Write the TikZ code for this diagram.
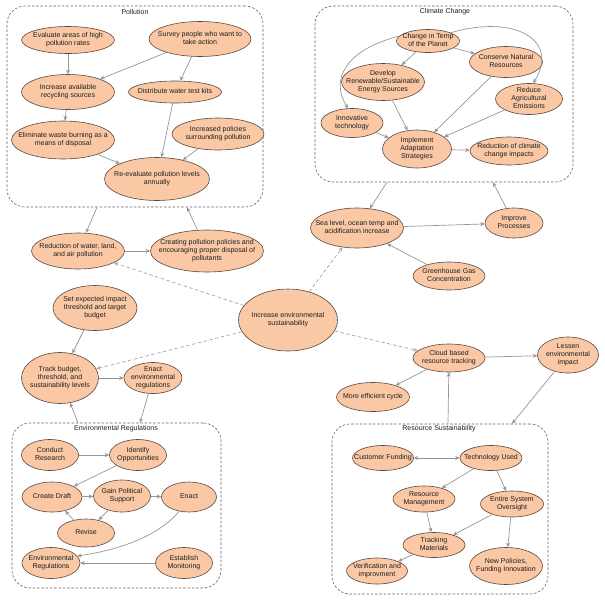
\documentclass[tikz,border=0pt]{standalone}
\usepackage{fontspec}
\setmainfont{Liberation Sans}
\usetikzlibrary{shapes.geometric,arrows.meta}
\definecolor{peach}{RGB}{250,200,165}
\definecolor{edgec}{RGB}{90,72,66}
\definecolor{arrc}{RGB}{150,150,150}
\definecolor{darrc}{RGB}{165,165,165}
\definecolor{boxc}{RGB}{95,95,95}
\definecolor{txtc}{RGB}{30,30,30}
\newcommand\tx[1]{\makebox[0pt]{\smash{\raisebox{-0.25em}{\begin{tabular}{@{}c@{}}#1\end{tabular}}}}}
\newcommand\E[5]{\node[el, minimum width=#3, minimum height=#4] (#1) at (#2) {\tx{#5}};}
\tikzset{
 el/.style={ellipse, draw=edgec, fill=peach, line width=0.6pt, inner sep=0pt},
 ar/.style={draw=arrc, line width=0.7pt, -{Stealth[length=4.5pt,width=4pt]}},
 dar/.style={draw=darrc, line width=0.7pt, dash pattern=on 3.5pt off 2.5pt, -{Stealth[length=4.5pt,width=4pt]}},
 grp/.style={draw=boxc, dash pattern=on 2.5pt off 1.8pt, rounded corners=18pt, line width=0.6pt, inner sep=0pt},
 ttl/.style={inner sep=0pt, text=txtc},
}
\begin{document}
\begin{tikzpicture}[x=1pt, y=-1pt, font=\fontsize{7}{8.3}\selectfont, text=txtc]
\useasboundingbox (0,0) rectangle (605,600);
% groups
\node[grp, minimum width=256, minimum height=201] (pbox) at (135,106.5) {};
\node[grp, minimum width=258, minimum height=176] (cbox) at (444,94) {};
\node[grp, minimum width=209, minimum height=165] (erbox) at (116.5,505.5) {};
\node[grp, minimum width=216, minimum height=170] (rbox) at (440,509) {};
\node[ttl] (pttl) at (135,12) {Pollution};
\node[ttl] (cttl) at (445,12) {Climate Change};
\node[ttl] (erttl) at (116,429) {Environmental Regulations};
\node[ttl] (rttl) at (439,429) {Resource Sustainability};
% pollution
\E{eval}{68,40}{93}{27}{Evaluate areas of high\\pollution rates}
\E{survey}{200,39}{102}{35}{Survey people who want to\\take action}
\E{incr}{68,92}{93}{35}{Increase available\\recycling sources}
\E{distr}{175,92}{93}{22}{Distribute water test kits}
\E{elim}{63,140}{103}{38}{Eliminate waste burning as a\\means of disposal}
\E{incpol}{218,134}{92}{32}{Increased policies\\surrounding pollution}
\E{reeval}{157,179}{105}{43}{Re-evaluate pollution levels\\annually}
% climate
\E{change}{428,41}{63}{23}{Change in Temp\\of the Planet}
\E{conserve}{506,62}{73}{31}{Conserve Natural\\Resources}
\E{develop}{383,82}{83}{37}{Develop\\Renewable/Sustainable\\Energy Sources}
\E{ragr}{529,99}{67}{31}{Reduce\\Agricultural\\Emissions}
\E{innov}{352,123}{62}{29}{Innovative\\technology}
\E{implem}{417,149}{69}{38}{Implement\\Adaptation\\Strategies}
\E{redcl}{509,151}{78}{28}{Reduction of climate\\change impacts}
% middle
\E{redw}{78,251}{93}{36}{Reduction of water, land,\\and air pollution}
\E{creat}{207,251}{113}{42}{Creating pollution policies and\\encouraging proper disposal of\\pollutants}
\E{setexp}{95,308}{84}{45}{Set expected impact\\threshold and target\\budget}
\E{track}{60,378}{77}{51}{Track budget,\\threshold, and\\sustainability levels}
\E{enactr}{153,378}{58}{31}{Enact\\environmental\\regulations}
\E{center}{288,320}{99}{62}{Increase environmental\\sustainability}
\E{sea}{357,228}{93}{40}{Sea level, ocean temp and\\acidification increase}
\E{improve}{514,223}{58}{30}{Improve\\Processes}
\E{ghg}{449,276}{72}{28}{Greenhouse Gas\\Concentration}
\E{cloud}{449,358}{72}{28}{Cloud based\\resource tracking}
\E{lessen}{568,355}{61}{36}{Lessen\\environmental\\impact}
\E{moreeff}{373,397}{73}{29}{More efficient cycle}
% env regulations
\E{conduct}{50,455}{57}{31}{Conduct\\Research}
\E{identify}{138,455}{57}{31}{Identify\\Opportunities}
\E{draft}{52,497}{60}{30}{Create Draft}
\E{gain}{122,496}{57}{32}{Gain Political\\Support}
\E{enact}{189,497}{55}{30}{Enact}
\E{revise}{86,533}{57}{28}{Revise}
\E{envreg}{51,563}{58}{31}{Environmental\\Regulations}
\E{establish}{184,563}{57}{31}{Establish\\Monitoring}
% resource sustainability
\E{custf}{383,458}{61}{25}{Customer Funding}
\E{techu}{491,458}{62}{25}{Technology Used}
\E{resm}{424,499}{62}{26}{Resource\\Management}
\E{entire}{512,504}{63}{26}{Entire System\\Oversight}
\E{trackm}{434,545}{62}{25}{Tracking\\Materials}
\E{verif}{377,571}{61}{26}{Verification and\\improvment}
\E{newpol}{506,566}{73}{37}{New Policies,\\Funding Innovation}
% pollution arrows
\draw[ar] (eval) -- (incr);
\draw[ar] (survey) -- (incr);
\draw[ar] (survey) -- (distr);
\draw[ar] (incr) -- (elim);
\draw[ar] (distr) -- (reeval);
\draw[ar] (elim) -- (reeval);
\draw[ar] (incpol) -- (reeval);
% climate arrows
\draw[ar] (change) -- (develop);
\draw[ar] (change) -- (conserve);
\draw[ar] (change.20) .. controls (515,14) and (560,40) .. (ragr.75);
\draw[ar] (change.170) .. controls (345,50) and (330,80) .. (innov.105);
\draw[ar] (develop) -- (implem);
\draw[ar] (conserve) -- (implem);
\draw[ar] (ragr) -- (implem);
\draw[ar] (innov) -- (implem);
\draw[ar] (implem) -- (redcl);
% middle arrows
\draw[ar] ([xshift=-38]pbox.south) -- (redw);
\draw[ar] (redw) -- (creat);
\draw[ar] (creat) -- ([xshift=52]pbox.south);
\draw[ar] (setexp) -- (track);
\draw[ar] (track) -- (enactr);
\draw[ar] (enactr) -- ([xshift=23.5]erbox.north);
\draw[ar] ([xshift=-38.5]erbox.north) -- (track);
\draw[dar] (center) -- (redw);
\draw[dar] (center) -- (track);
\draw[dar] (center) -- (sea);
\draw[dar] (center) -- (cloud);
\draw[ar] ([xshift=-57]cbox.south) -- (sea);
\draw[ar] (improve) -- ([xshift=49]cbox.south);
\draw[ar] (sea) -- (improve);
\draw[ar] (ghg) -- (sea);
\draw[ar] (cloud) -- (lessen);
\draw[ar] (cloud) -- (moreeff);
\draw[ar] ([xshift=8]rbox.north) -- (cloud);
\draw[ar] (lessen) -- ([xshift=72]rbox.north);
% env regulation arrows
\draw[ar] (conduct) -- (identify);
\draw[ar] (identify) -- (draft);
\draw[ar] (draft) -- (gain);
\draw[ar] (gain) -- (enact);
\draw[ar] (gain) -- (revise);
\draw[ar] (revise) -- (draft);
\draw[ar] (enact.235) .. controls (160,535) and (120,550) .. (envreg.15);
\draw[ar] (establish) -- (envreg);
% resource arrows
\draw[ar, {Stealth[length=4.5pt,width=4pt]}-{Stealth[length=4.5pt,width=4pt]}] (custf) -- (techu);
\draw[ar] (techu) -- (resm);
\draw[ar] (techu) -- (entire);
\draw[ar] (resm) -- (trackm);
\draw[ar] (entire) -- (trackm);
\draw[ar] (entire) -- (newpol);
\draw[ar] (trackm) -- (verif);
\end{tikzpicture}
\end{document}
